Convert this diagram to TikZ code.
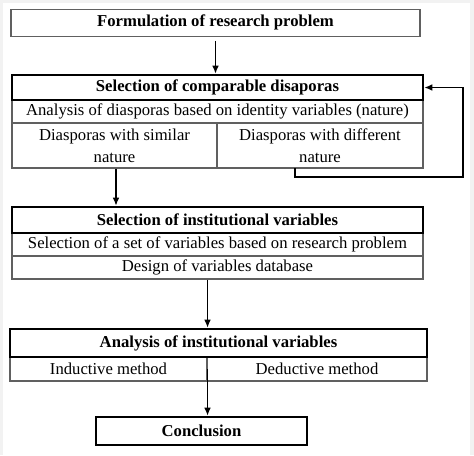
\documentclass[tikz,border=0pt]{standalone}
\usepackage{fontspec}
\setmainfont{Liberation Serif}
\usetikzlibrary{arrows.meta}
\begin{document}
\begin{tikzpicture}[x=0.75pt,y=-0.75pt,
  headbox/.style={draw=black, line width=1.9pt, inner sep=0pt, font=\bfseries\fontsize{12.5}{15}\selectfont},
  rowbox/.style={draw=gray!75!black, line width=0.8pt, inner sep=0pt, align=center, font=\fontsize{12.5}{16.5}\selectfont},
  arr/.style={-{Latex[length=6pt,width=5pt]}, line width=1.1pt}]
% frame
\fill[gray!10] (0,0) rectangle (474,455);
\fill[white] (3,3) rectangle (470,455);
\useasboundingbox (0,0) rectangle (474,455);
% first block
\node[rowbox, minimum width=409*0.75pt, minimum height=27*0.75pt, font=\bfseries\fontsize{12.5}{15}\selectfont] (formul) at (215.5,22.8) {Formulation of research problem};
% diasporas
\node[rowbox, minimum width=411*0.75pt, minimum height=23*0.75pt] (selAna) at (217.5,111.5) {Analysis of diasporas based on identity variables (nature)};
\node[rowbox, minimum width=205*0.75pt, minimum height=45*0.75pt] (simil) at (114.5,145.5) {Diasporas with similar\\nature};
\node[rowbox, minimum width=206*0.75pt, minimum height=45*0.75pt] (diff) at (320,145.5) {Diasporas with different\\nature};
\node[headbox, minimum width=411*0.75pt, minimum height=25*0.75pt] (selHead) at (217.5,87.5) {Selection of comparable disaporas};
% institutional variables
\node[rowbox, minimum width=411*0.75pt, minimum height=23*0.75pt] (instSet) at (217.5,244.5) {Selection of a set of variables based on research problem};
\node[rowbox, minimum width=411*0.75pt, minimum height=23*0.75pt] (instDes) at (217.5,267.5) {Design of variables database};
\node[headbox, minimum width=411*0.75pt, minimum height=26*0.75pt] (instHead) at (217.5,220) {Selection of institutional variables};
% analysis
\node[rowbox, minimum width=197*0.75pt, minimum height=24*0.75pt] (induct) at (108.5,369) {Inductive method};
\node[rowbox, minimum width=220*0.75pt, minimum height=24*0.75pt] (deduct) at (317,369) {Deductive method};
\node[headbox, minimum width=417*0.75pt, minimum height=28*0.75pt] (anaHead) at (218.5,343) {Analysis of institutional variables};
% conclusion
\node[headbox, minimum width=211*0.75pt, minimum height=28*0.75pt] (concl) at (201.5,431) {Conclusion};
% arrows
\coordinate (fbStart) at (295,168);
\coordinate (fbCorner) at (463,177);
\draw[arr, shorten <=3pt] (formul.south) -- (formul.south |- selHead.north);
\draw[arr] (fbStart) |- (fbCorner) |- (selHead.east);
\draw[arr] (simil.south -| 116,0) -- (instHead.north -| 116,0);
\draw[arr] (instDes.south -| induct.east) -- (anaHead.north -| induct.east);
\draw[arr] (induct.east) -- (concl.north -| induct.east);
\end{tikzpicture}
\end{document}
